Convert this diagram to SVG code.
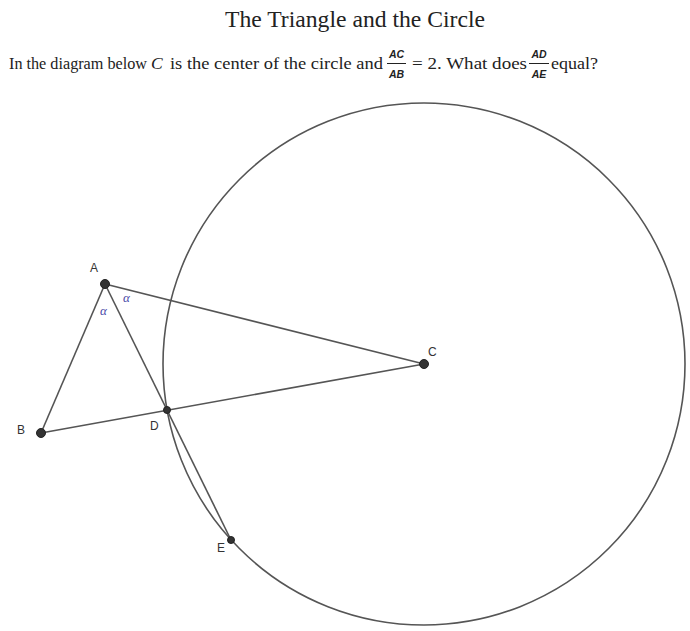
<svg xmlns="http://www.w3.org/2000/svg" width="690" height="631" viewBox="0 0 690 631">
<style>
.t{font-family:"Liberation Serif","Times New Roman",serif;fill:#222}
.f{font-family:"Liberation Sans",Arial,sans-serif;font-style:italic;font-weight:bold;font-size:10.5px;fill:#222}
.lbl{font-family:"Liberation Sans",Arial,sans-serif;font-size:12px;fill:#333}
.al{font-family:"Liberation Serif",serif;font-style:italic;font-size:13px;fill:#4a4aa8}
.ln{stroke:#555;stroke-width:1.6;fill:none}
.pt{fill:#333;stroke:#222;stroke-width:1}
</style>
<rect width="690" height="631" fill="#fff"/>
<text class="t" x="225" y="27" font-size="23" textLength="260" lengthAdjust="spacingAndGlyphs">The Triangle and the Circle</text>
<text class="t" x="9" y="69" font-size="16.5" textLength="138" lengthAdjust="spacingAndGlyphs">In the diagram below</text>
<text class="t" x="151" y="69" font-size="17.5" font-style="italic">C</text>
<text class="t" x="170" y="69" font-size="17.5" textLength="213" lengthAdjust="spacingAndGlyphs">is the center of the circle and</text>
<text class="f" x="396.5" y="58" text-anchor="middle">AC</text>
<line x1="387" y1="63.5" x2="406" y2="63.5" stroke="#222" stroke-width="1"/>
<text class="f" x="396.5" y="78" text-anchor="middle">AB</text>
<text class="t" x="412" y="69" font-size="17.5" textLength="115" lengthAdjust="spacingAndGlyphs">= 2.  What does</text>
<text class="f" x="539" y="58" text-anchor="middle">AD</text>
<line x1="529" y1="63.5" x2="549" y2="63.5" stroke="#222" stroke-width="1"/>
<text class="f" x="539" y="78" text-anchor="middle">AE</text>
<text class="t" x="551" y="69" font-size="17.5" textLength="47" lengthAdjust="spacingAndGlyphs">equal?</text>
<g id="connectors">
<circle class="ln" cx="424" cy="364" r="261"/>
<line class="ln" x1="105" y1="284" x2="41" y2="433"/>
<line class="ln" x1="105" y1="284" x2="424" y2="364"/>
<line class="ln" x1="41" y1="433" x2="424" y2="364"/>
<line class="ln" x1="105" y1="284" x2="231" y2="540"/>
</g>
<g id="A"><circle class="pt" cx="105" cy="284" r="4.5"/><text class="lbl" x="90" y="272">A</text></g>
<g id="B"><circle class="pt" cx="41" cy="433" r="4.5"/><text class="lbl" x="17" y="434">B</text></g>
<g id="C"><circle class="pt" cx="424" cy="364" r="4.5"/><text class="lbl" x="428" y="356">C</text></g>
<g id="D"><circle class="pt" cx="167" cy="410" r="3.5"/><text class="lbl" x="150" y="430">D</text></g>
<g id="E"><circle class="pt" cx="231" cy="540" r="3.5"/><text class="lbl" x="217" y="552">E</text></g>
<g id="alpha"><text class="al" x="100" y="315">α</text><text class="al" x="123" y="302">α</text></g>
</svg>
